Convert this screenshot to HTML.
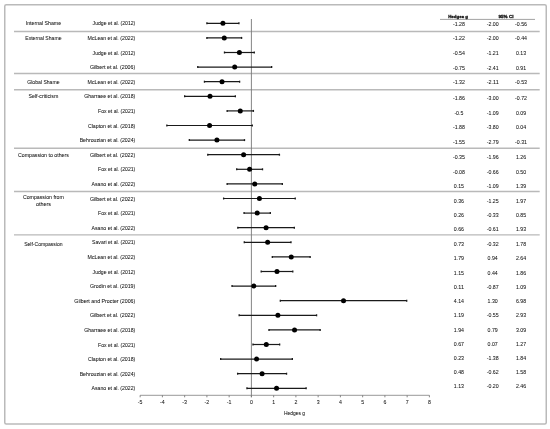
<!DOCTYPE html>
<html><head><meta charset="utf-8"><style>
html,body{margin:0;padding:0;background:#fff;}
body{width:550px;height:429px;overflow:hidden;}
svg{display:block;font-family:"Liberation Sans",sans-serif;}
text{stroke:#111;stroke-width:0.05px;}
</style></head><body>
<svg width="550" height="429" viewBox="0 0 550 429" fill="#111">
<rect x="4.75" y="4.75" width="541.5" height="419.2" rx="1.5" fill="none" stroke="#bababa" stroke-width="1.5"/>
<line x1="14" y1="31.45" x2="539.7" y2="31.45" stroke="#b9b9b9" stroke-width="1.4"/>
<line x1="14" y1="73.55" x2="539.7" y2="73.55" stroke="#b9b9b9" stroke-width="1.4"/>
<line x1="14" y1="89.75" x2="539.7" y2="89.75" stroke="#b9b9b9" stroke-width="1.4"/>
<line x1="14" y1="148.25" x2="539.7" y2="148.25" stroke="#b9b9b9" stroke-width="1.4"/>
<line x1="14" y1="191.45" x2="539.7" y2="191.45" stroke="#b9b9b9" stroke-width="1.4"/>
<line x1="14" y1="234.85" x2="539.7" y2="234.85" stroke="#b9b9b9" stroke-width="1.4"/>
<line x1="440" y1="19.4" x2="535" y2="19.4" stroke="#8a8a8a" stroke-width="0.8"/>
<line x1="251.4" y1="19" x2="251.4" y2="397.2" stroke="#777" stroke-width="0.9"/>
<line x1="140.15" y1="395.3" x2="429.4" y2="395.3" stroke="#858585" stroke-width="0.85"/>
<line x1="140.15" y1="395.3" x2="140.15" y2="397.3" stroke="#777" stroke-width="0.9"/>
<line x1="162.40" y1="395.3" x2="162.40" y2="397.3" stroke="#777" stroke-width="0.9"/>
<line x1="184.65" y1="395.3" x2="184.65" y2="397.3" stroke="#777" stroke-width="0.9"/>
<line x1="206.90" y1="395.3" x2="206.90" y2="397.3" stroke="#777" stroke-width="0.9"/>
<line x1="229.15" y1="395.3" x2="229.15" y2="397.3" stroke="#777" stroke-width="0.9"/>
<line x1="251.40" y1="395.3" x2="251.40" y2="397.3" stroke="#777" stroke-width="0.9"/>
<line x1="273.65" y1="395.3" x2="273.65" y2="397.3" stroke="#777" stroke-width="0.9"/>
<line x1="295.90" y1="395.3" x2="295.90" y2="397.3" stroke="#777" stroke-width="0.9"/>
<line x1="318.15" y1="395.3" x2="318.15" y2="397.3" stroke="#777" stroke-width="0.9"/>
<line x1="340.40" y1="395.3" x2="340.40" y2="397.3" stroke="#777" stroke-width="0.9"/>
<line x1="362.65" y1="395.3" x2="362.65" y2="397.3" stroke="#777" stroke-width="0.9"/>
<line x1="384.90" y1="395.3" x2="384.90" y2="397.3" stroke="#777" stroke-width="0.9"/>
<line x1="407.15" y1="395.3" x2="407.15" y2="397.3" stroke="#777" stroke-width="0.9"/>
<line x1="429.40" y1="395.3" x2="429.40" y2="397.3" stroke="#777" stroke-width="0.9"/>
<line x1="206.90" y1="23.30" x2="238.94" y2="23.30" stroke="#1a1a1a" stroke-width="1.2"/>
<line x1="206.90" y1="22.30" x2="206.90" y2="24.30" stroke="#1a1a1a" stroke-width="1.3"/>
<line x1="238.94" y1="22.30" x2="238.94" y2="24.30" stroke="#1a1a1a" stroke-width="1.3"/>
<circle cx="222.92" cy="23.30" r="2.5" fill="#000"/>
<line x1="206.90" y1="37.90" x2="241.61" y2="37.90" stroke="#1a1a1a" stroke-width="1.2"/>
<line x1="206.90" y1="36.90" x2="206.90" y2="38.90" stroke="#1a1a1a" stroke-width="1.3"/>
<line x1="241.61" y1="36.90" x2="241.61" y2="38.90" stroke="#1a1a1a" stroke-width="1.3"/>
<circle cx="224.25" cy="37.90" r="2.5" fill="#000"/>
<line x1="224.48" y1="52.50" x2="254.29" y2="52.50" stroke="#1a1a1a" stroke-width="1.2"/>
<line x1="224.48" y1="51.50" x2="224.48" y2="53.50" stroke="#1a1a1a" stroke-width="1.3"/>
<line x1="254.29" y1="51.50" x2="254.29" y2="53.50" stroke="#1a1a1a" stroke-width="1.3"/>
<circle cx="239.38" cy="52.50" r="2.5" fill="#000"/>
<line x1="197.78" y1="67.10" x2="271.65" y2="67.10" stroke="#1a1a1a" stroke-width="1.2"/>
<line x1="197.78" y1="66.10" x2="197.78" y2="68.10" stroke="#1a1a1a" stroke-width="1.3"/>
<line x1="271.65" y1="66.10" x2="271.65" y2="68.10" stroke="#1a1a1a" stroke-width="1.3"/>
<circle cx="234.71" cy="67.10" r="2.5" fill="#000"/>
<line x1="204.45" y1="81.70" x2="239.61" y2="81.70" stroke="#1a1a1a" stroke-width="1.2"/>
<line x1="204.45" y1="80.70" x2="204.45" y2="82.70" stroke="#1a1a1a" stroke-width="1.3"/>
<line x1="239.61" y1="80.70" x2="239.61" y2="82.70" stroke="#1a1a1a" stroke-width="1.3"/>
<circle cx="222.03" cy="81.70" r="2.5" fill="#000"/>
<line x1="184.65" y1="96.30" x2="235.38" y2="96.30" stroke="#1a1a1a" stroke-width="1.2"/>
<line x1="184.65" y1="95.30" x2="184.65" y2="97.30" stroke="#1a1a1a" stroke-width="1.3"/>
<line x1="235.38" y1="95.30" x2="235.38" y2="97.30" stroke="#1a1a1a" stroke-width="1.3"/>
<circle cx="210.01" cy="96.30" r="2.5" fill="#000"/>
<line x1="227.15" y1="110.90" x2="253.40" y2="110.90" stroke="#1a1a1a" stroke-width="1.2"/>
<line x1="227.15" y1="109.90" x2="227.15" y2="111.90" stroke="#1a1a1a" stroke-width="1.3"/>
<line x1="253.40" y1="109.90" x2="253.40" y2="111.90" stroke="#1a1a1a" stroke-width="1.3"/>
<circle cx="240.28" cy="110.90" r="2.5" fill="#000"/>
<line x1="166.85" y1="125.50" x2="252.29" y2="125.50" stroke="#1a1a1a" stroke-width="1.2"/>
<line x1="166.85" y1="124.50" x2="166.85" y2="126.50" stroke="#1a1a1a" stroke-width="1.3"/>
<line x1="252.29" y1="124.50" x2="252.29" y2="126.50" stroke="#1a1a1a" stroke-width="1.3"/>
<circle cx="209.57" cy="125.50" r="2.5" fill="#000"/>
<line x1="189.32" y1="140.10" x2="244.50" y2="140.10" stroke="#1a1a1a" stroke-width="1.2"/>
<line x1="189.32" y1="139.10" x2="189.32" y2="141.10" stroke="#1a1a1a" stroke-width="1.3"/>
<line x1="244.50" y1="139.10" x2="244.50" y2="141.10" stroke="#1a1a1a" stroke-width="1.3"/>
<circle cx="216.91" cy="140.10" r="2.5" fill="#000"/>
<line x1="207.79" y1="154.70" x2="279.44" y2="154.70" stroke="#1a1a1a" stroke-width="1.2"/>
<line x1="207.79" y1="153.70" x2="207.79" y2="155.70" stroke="#1a1a1a" stroke-width="1.3"/>
<line x1="279.44" y1="153.70" x2="279.44" y2="155.70" stroke="#1a1a1a" stroke-width="1.3"/>
<circle cx="243.61" cy="154.70" r="2.5" fill="#000"/>
<line x1="236.72" y1="169.30" x2="262.52" y2="169.30" stroke="#1a1a1a" stroke-width="1.2"/>
<line x1="236.72" y1="168.30" x2="236.72" y2="170.30" stroke="#1a1a1a" stroke-width="1.3"/>
<line x1="262.52" y1="168.30" x2="262.52" y2="170.30" stroke="#1a1a1a" stroke-width="1.3"/>
<circle cx="249.62" cy="169.30" r="2.5" fill="#000"/>
<line x1="227.15" y1="183.90" x2="282.33" y2="183.90" stroke="#1a1a1a" stroke-width="1.2"/>
<line x1="227.15" y1="182.90" x2="227.15" y2="184.90" stroke="#1a1a1a" stroke-width="1.3"/>
<line x1="282.33" y1="182.90" x2="282.33" y2="184.90" stroke="#1a1a1a" stroke-width="1.3"/>
<circle cx="254.74" cy="183.90" r="2.5" fill="#000"/>
<line x1="223.59" y1="198.50" x2="295.23" y2="198.50" stroke="#1a1a1a" stroke-width="1.2"/>
<line x1="223.59" y1="197.50" x2="223.59" y2="199.50" stroke="#1a1a1a" stroke-width="1.3"/>
<line x1="295.23" y1="197.50" x2="295.23" y2="199.50" stroke="#1a1a1a" stroke-width="1.3"/>
<circle cx="259.41" cy="198.50" r="2.5" fill="#000"/>
<line x1="244.06" y1="213.10" x2="270.31" y2="213.10" stroke="#1a1a1a" stroke-width="1.2"/>
<line x1="244.06" y1="212.10" x2="244.06" y2="214.10" stroke="#1a1a1a" stroke-width="1.3"/>
<line x1="270.31" y1="212.10" x2="270.31" y2="214.10" stroke="#1a1a1a" stroke-width="1.3"/>
<circle cx="257.19" cy="213.10" r="2.5" fill="#000"/>
<line x1="237.83" y1="227.70" x2="294.34" y2="227.70" stroke="#1a1a1a" stroke-width="1.2"/>
<line x1="237.83" y1="226.70" x2="237.83" y2="228.70" stroke="#1a1a1a" stroke-width="1.3"/>
<line x1="294.34" y1="226.70" x2="294.34" y2="228.70" stroke="#1a1a1a" stroke-width="1.3"/>
<circle cx="266.08" cy="227.70" r="2.5" fill="#000"/>
<line x1="244.28" y1="242.30" x2="291.00" y2="242.30" stroke="#1a1a1a" stroke-width="1.2"/>
<line x1="244.28" y1="241.30" x2="244.28" y2="243.30" stroke="#1a1a1a" stroke-width="1.3"/>
<line x1="291.00" y1="241.30" x2="291.00" y2="243.30" stroke="#1a1a1a" stroke-width="1.3"/>
<circle cx="267.64" cy="242.30" r="2.5" fill="#000"/>
<line x1="272.31" y1="256.90" x2="310.14" y2="256.90" stroke="#1a1a1a" stroke-width="1.2"/>
<line x1="272.31" y1="255.90" x2="272.31" y2="257.90" stroke="#1a1a1a" stroke-width="1.3"/>
<line x1="310.14" y1="255.90" x2="310.14" y2="257.90" stroke="#1a1a1a" stroke-width="1.3"/>
<circle cx="291.23" cy="256.90" r="2.5" fill="#000"/>
<line x1="261.19" y1="271.50" x2="292.79" y2="271.50" stroke="#1a1a1a" stroke-width="1.2"/>
<line x1="261.19" y1="270.50" x2="261.19" y2="272.50" stroke="#1a1a1a" stroke-width="1.3"/>
<line x1="292.79" y1="270.50" x2="292.79" y2="272.50" stroke="#1a1a1a" stroke-width="1.3"/>
<circle cx="276.99" cy="271.50" r="2.5" fill="#000"/>
<line x1="232.04" y1="286.10" x2="275.65" y2="286.10" stroke="#1a1a1a" stroke-width="1.2"/>
<line x1="232.04" y1="285.10" x2="232.04" y2="287.10" stroke="#1a1a1a" stroke-width="1.3"/>
<line x1="275.65" y1="285.10" x2="275.65" y2="287.10" stroke="#1a1a1a" stroke-width="1.3"/>
<circle cx="253.85" cy="286.10" r="2.5" fill="#000"/>
<line x1="280.32" y1="300.70" x2="406.71" y2="300.70" stroke="#1a1a1a" stroke-width="1.2"/>
<line x1="280.32" y1="299.70" x2="280.32" y2="301.70" stroke="#1a1a1a" stroke-width="1.3"/>
<line x1="406.71" y1="299.70" x2="406.71" y2="301.70" stroke="#1a1a1a" stroke-width="1.3"/>
<circle cx="343.51" cy="300.70" r="2.5" fill="#000"/>
<line x1="239.16" y1="315.30" x2="316.59" y2="315.30" stroke="#1a1a1a" stroke-width="1.2"/>
<line x1="239.16" y1="314.30" x2="239.16" y2="316.30" stroke="#1a1a1a" stroke-width="1.3"/>
<line x1="316.59" y1="314.30" x2="316.59" y2="316.30" stroke="#1a1a1a" stroke-width="1.3"/>
<circle cx="277.88" cy="315.30" r="2.5" fill="#000"/>
<line x1="268.98" y1="329.90" x2="320.15" y2="329.90" stroke="#1a1a1a" stroke-width="1.2"/>
<line x1="268.98" y1="328.90" x2="268.98" y2="330.90" stroke="#1a1a1a" stroke-width="1.3"/>
<line x1="320.15" y1="328.90" x2="320.15" y2="330.90" stroke="#1a1a1a" stroke-width="1.3"/>
<circle cx="294.56" cy="329.90" r="2.5" fill="#000"/>
<line x1="252.96" y1="344.50" x2="279.66" y2="344.50" stroke="#1a1a1a" stroke-width="1.2"/>
<line x1="252.96" y1="343.50" x2="252.96" y2="345.50" stroke="#1a1a1a" stroke-width="1.3"/>
<line x1="279.66" y1="343.50" x2="279.66" y2="345.50" stroke="#1a1a1a" stroke-width="1.3"/>
<circle cx="266.31" cy="344.50" r="2.5" fill="#000"/>
<line x1="220.69" y1="359.10" x2="292.34" y2="359.10" stroke="#1a1a1a" stroke-width="1.2"/>
<line x1="220.69" y1="358.10" x2="220.69" y2="360.10" stroke="#1a1a1a" stroke-width="1.3"/>
<line x1="292.34" y1="358.10" x2="292.34" y2="360.10" stroke="#1a1a1a" stroke-width="1.3"/>
<circle cx="256.52" cy="359.10" r="2.5" fill="#000"/>
<line x1="237.61" y1="373.70" x2="286.56" y2="373.70" stroke="#1a1a1a" stroke-width="1.2"/>
<line x1="237.61" y1="372.70" x2="237.61" y2="374.70" stroke="#1a1a1a" stroke-width="1.3"/>
<line x1="286.56" y1="372.70" x2="286.56" y2="374.70" stroke="#1a1a1a" stroke-width="1.3"/>
<circle cx="262.08" cy="373.70" r="2.5" fill="#000"/>
<line x1="246.95" y1="388.30" x2="306.13" y2="388.30" stroke="#1a1a1a" stroke-width="1.2"/>
<line x1="246.95" y1="387.30" x2="246.95" y2="389.30" stroke="#1a1a1a" stroke-width="1.3"/>
<line x1="306.13" y1="387.30" x2="306.13" y2="389.30" stroke="#1a1a1a" stroke-width="1.3"/>
<circle cx="276.54" cy="388.30" r="2.5" fill="#000"/>
<text x="43.40" y="24.80" text-anchor="middle" textLength="35.41" lengthAdjust="spacingAndGlyphs" font-size="5.8">Internal Shame</text>
<text x="135.30" y="25.40" text-anchor="end" textLength="42.72" lengthAdjust="spacingAndGlyphs" font-size="5.8">Judge et al. (2012)</text>
<text x="458.90" y="25.85" text-anchor="middle" textLength="11.96" lengthAdjust="spacingAndGlyphs" font-size="5.8">-1.28</text>
<text x="492.70" y="25.85" text-anchor="middle" textLength="11.96" lengthAdjust="spacingAndGlyphs" font-size="5.8">-2.00</text>
<text x="521.00" y="25.85" text-anchor="middle" textLength="11.96" lengthAdjust="spacingAndGlyphs" font-size="5.8">-0.56</text>
<text x="43.40" y="40.30" text-anchor="middle" textLength="36.31" lengthAdjust="spacingAndGlyphs" font-size="5.8">External Shame</text>
<text x="135.30" y="40.00" text-anchor="end" textLength="47.73" lengthAdjust="spacingAndGlyphs" font-size="5.8">McLean et al. (2022)</text>
<text x="458.90" y="40.35" text-anchor="middle" textLength="11.96" lengthAdjust="spacingAndGlyphs" font-size="5.8">-1.22</text>
<text x="492.70" y="40.35" text-anchor="middle" textLength="11.96" lengthAdjust="spacingAndGlyphs" font-size="5.8">-2.00</text>
<text x="521.00" y="40.35" text-anchor="middle" textLength="11.96" lengthAdjust="spacingAndGlyphs" font-size="5.8">-0.44</text>
<text x="135.30" y="54.60" text-anchor="end" textLength="42.72" lengthAdjust="spacingAndGlyphs" font-size="5.8">Judge et al. (2012)</text>
<text x="458.90" y="55.15" text-anchor="middle" textLength="11.96" lengthAdjust="spacingAndGlyphs" font-size="5.8">-0.54</text>
<text x="492.70" y="55.15" text-anchor="middle" textLength="11.96" lengthAdjust="spacingAndGlyphs" font-size="5.8">-1.21</text>
<text x="521.00" y="55.15" text-anchor="middle" textLength="10.19" lengthAdjust="spacingAndGlyphs" font-size="5.8">0.13</text>
<text x="135.30" y="69.20" text-anchor="end" textLength="45.41" lengthAdjust="spacingAndGlyphs" font-size="5.8">Gilbert et al. (2006)</text>
<text x="458.90" y="70.05" text-anchor="middle" textLength="11.96" lengthAdjust="spacingAndGlyphs" font-size="5.8">-0.75</text>
<text x="492.70" y="70.05" text-anchor="middle" textLength="11.96" lengthAdjust="spacingAndGlyphs" font-size="5.8">-2.41</text>
<text x="521.00" y="70.05" text-anchor="middle" textLength="10.19" lengthAdjust="spacingAndGlyphs" font-size="5.8">0.91</text>
<text x="43.40" y="83.70" text-anchor="middle" textLength="32.25" lengthAdjust="spacingAndGlyphs" font-size="5.8">Global Shame</text>
<text x="135.30" y="83.80" text-anchor="end" textLength="47.73" lengthAdjust="spacingAndGlyphs" font-size="5.8">McLean et al. (2022)</text>
<text x="458.90" y="84.45" text-anchor="middle" textLength="11.96" lengthAdjust="spacingAndGlyphs" font-size="5.8">-1.32</text>
<text x="492.70" y="84.45" text-anchor="middle" textLength="11.96" lengthAdjust="spacingAndGlyphs" font-size="5.8">-2.11</text>
<text x="521.00" y="84.45" text-anchor="middle" textLength="11.96" lengthAdjust="spacingAndGlyphs" font-size="5.8">-0.53</text>
<text x="43.40" y="97.50" text-anchor="middle" textLength="29.74" lengthAdjust="spacingAndGlyphs" font-size="5.8">Self-criticism</text>
<text x="135.30" y="98.40" text-anchor="end" textLength="51.10" lengthAdjust="spacingAndGlyphs" font-size="5.8">Gharraee et al. (2018)</text>
<text x="458.90" y="99.55" text-anchor="middle" textLength="11.96" lengthAdjust="spacingAndGlyphs" font-size="5.8">-1.86</text>
<text x="492.70" y="99.55" text-anchor="middle" textLength="11.96" lengthAdjust="spacingAndGlyphs" font-size="5.8">-3.00</text>
<text x="521.00" y="99.55" text-anchor="middle" textLength="11.96" lengthAdjust="spacingAndGlyphs" font-size="5.8">-0.72</text>
<text x="135.30" y="113.00" text-anchor="end" textLength="37.30" lengthAdjust="spacingAndGlyphs" font-size="5.8">Fox et al. (2021)</text>
<text x="458.90" y="114.65" text-anchor="middle" textLength="9.04" lengthAdjust="spacingAndGlyphs" font-size="5.8">-0.5</text>
<text x="492.70" y="114.65" text-anchor="middle" textLength="11.96" lengthAdjust="spacingAndGlyphs" font-size="5.8">-1.09</text>
<text x="521.00" y="114.65" text-anchor="middle" textLength="10.19" lengthAdjust="spacingAndGlyphs" font-size="5.8">0.09</text>
<text x="135.30" y="127.60" text-anchor="end" textLength="47.38" lengthAdjust="spacingAndGlyphs" font-size="5.8">Clapton et al. (2018)</text>
<text x="458.90" y="129.45" text-anchor="middle" textLength="11.96" lengthAdjust="spacingAndGlyphs" font-size="5.8">-1.88</text>
<text x="492.70" y="129.45" text-anchor="middle" textLength="11.96" lengthAdjust="spacingAndGlyphs" font-size="5.8">-3.80</text>
<text x="521.00" y="129.45" text-anchor="middle" textLength="10.19" lengthAdjust="spacingAndGlyphs" font-size="5.8">0.04</text>
<text x="135.30" y="142.20" text-anchor="end" textLength="55.67" lengthAdjust="spacingAndGlyphs" font-size="5.8">Behrouzian et al. (2024)</text>
<text x="458.90" y="144.05" text-anchor="middle" textLength="11.96" lengthAdjust="spacingAndGlyphs" font-size="5.8">-1.55</text>
<text x="492.70" y="144.05" text-anchor="middle" textLength="11.96" lengthAdjust="spacingAndGlyphs" font-size="5.8">-2.79</text>
<text x="521.00" y="144.05" text-anchor="middle" textLength="11.96" lengthAdjust="spacingAndGlyphs" font-size="5.8">-0.31</text>
<text x="43.40" y="156.70" text-anchor="middle" textLength="50.84" lengthAdjust="spacingAndGlyphs" font-size="5.8">Compassion to others</text>
<text x="135.30" y="156.80" text-anchor="end" textLength="45.41" lengthAdjust="spacingAndGlyphs" font-size="5.8">Gilbert et al. (2022)</text>
<text x="458.90" y="158.75" text-anchor="middle" textLength="11.96" lengthAdjust="spacingAndGlyphs" font-size="5.8">-0.35</text>
<text x="492.70" y="158.75" text-anchor="middle" textLength="11.96" lengthAdjust="spacingAndGlyphs" font-size="5.8">-1.96</text>
<text x="521.00" y="158.75" text-anchor="middle" textLength="10.19" lengthAdjust="spacingAndGlyphs" font-size="5.8">1.26</text>
<text x="135.30" y="171.40" text-anchor="end" textLength="37.30" lengthAdjust="spacingAndGlyphs" font-size="5.8">Fox et al. (2021)</text>
<text x="458.90" y="173.55" text-anchor="middle" textLength="11.96" lengthAdjust="spacingAndGlyphs" font-size="5.8">-0.08</text>
<text x="492.70" y="173.55" text-anchor="middle" textLength="11.96" lengthAdjust="spacingAndGlyphs" font-size="5.8">-0.66</text>
<text x="521.00" y="173.55" text-anchor="middle" textLength="10.19" lengthAdjust="spacingAndGlyphs" font-size="5.8">0.50</text>
<text x="135.30" y="186.00" text-anchor="end" textLength="43.71" lengthAdjust="spacingAndGlyphs" font-size="5.8">Asano et al. (2022)</text>
<text x="458.90" y="188.05" text-anchor="middle" textLength="10.19" lengthAdjust="spacingAndGlyphs" font-size="5.8">0.15</text>
<text x="492.70" y="188.05" text-anchor="middle" textLength="11.96" lengthAdjust="spacingAndGlyphs" font-size="5.8">-1.09</text>
<text x="521.00" y="188.05" text-anchor="middle" textLength="10.19" lengthAdjust="spacingAndGlyphs" font-size="5.8">1.39</text>
<text x="43.40" y="198.80" text-anchor="middle" textLength="40.93" lengthAdjust="spacingAndGlyphs" font-size="5.8">Compassion from</text>
<text x="43.40" y="206.10" text-anchor="middle" textLength="15.00" lengthAdjust="spacingAndGlyphs" font-size="5.8">others</text>
<text x="135.30" y="200.60" text-anchor="end" textLength="45.41" lengthAdjust="spacingAndGlyphs" font-size="5.8">Gilbert et al. (2022)</text>
<text x="458.90" y="202.75" text-anchor="middle" textLength="10.19" lengthAdjust="spacingAndGlyphs" font-size="5.8">0.36</text>
<text x="492.70" y="202.75" text-anchor="middle" textLength="11.96" lengthAdjust="spacingAndGlyphs" font-size="5.8">-1.25</text>
<text x="521.00" y="202.75" text-anchor="middle" textLength="10.19" lengthAdjust="spacingAndGlyphs" font-size="5.8">1.97</text>
<text x="135.30" y="215.20" text-anchor="end" textLength="37.30" lengthAdjust="spacingAndGlyphs" font-size="5.8">Fox et al. (2021)</text>
<text x="458.90" y="216.65" text-anchor="middle" textLength="10.19" lengthAdjust="spacingAndGlyphs" font-size="5.8">0.26</text>
<text x="492.70" y="216.65" text-anchor="middle" textLength="11.96" lengthAdjust="spacingAndGlyphs" font-size="5.8">-0.33</text>
<text x="521.00" y="216.65" text-anchor="middle" textLength="10.19" lengthAdjust="spacingAndGlyphs" font-size="5.8">0.85</text>
<text x="135.30" y="229.80" text-anchor="end" textLength="43.71" lengthAdjust="spacingAndGlyphs" font-size="5.8">Asano et al. (2022)</text>
<text x="458.90" y="231.15" text-anchor="middle" textLength="10.19" lengthAdjust="spacingAndGlyphs" font-size="5.8">0.66</text>
<text x="492.70" y="231.15" text-anchor="middle" textLength="11.96" lengthAdjust="spacingAndGlyphs" font-size="5.8">-0.61</text>
<text x="521.00" y="231.15" text-anchor="middle" textLength="10.19" lengthAdjust="spacingAndGlyphs" font-size="5.8">1.93</text>
<text x="43.40" y="246.40" text-anchor="middle" textLength="38.52" lengthAdjust="spacingAndGlyphs" font-size="5.8">Self-Compassion</text>
<text x="135.30" y="244.40" text-anchor="end" textLength="43.22" lengthAdjust="spacingAndGlyphs" font-size="5.8">Savari et al. (2021)</text>
<text x="458.90" y="246.25" text-anchor="middle" textLength="10.19" lengthAdjust="spacingAndGlyphs" font-size="5.8">0.73</text>
<text x="492.70" y="246.25" text-anchor="middle" textLength="11.96" lengthAdjust="spacingAndGlyphs" font-size="5.8">-0.32</text>
<text x="521.00" y="246.25" text-anchor="middle" textLength="10.19" lengthAdjust="spacingAndGlyphs" font-size="5.8">1.78</text>
<text x="135.30" y="259.00" text-anchor="end" textLength="47.73" lengthAdjust="spacingAndGlyphs" font-size="5.8">McLean et al. (2022)</text>
<text x="458.90" y="260.35" text-anchor="middle" textLength="10.19" lengthAdjust="spacingAndGlyphs" font-size="5.8">1.79</text>
<text x="492.70" y="260.35" text-anchor="middle" textLength="10.19" lengthAdjust="spacingAndGlyphs" font-size="5.8">0.94</text>
<text x="521.00" y="260.35" text-anchor="middle" textLength="10.19" lengthAdjust="spacingAndGlyphs" font-size="5.8">2.64</text>
<text x="135.30" y="273.60" text-anchor="end" textLength="42.72" lengthAdjust="spacingAndGlyphs" font-size="5.8">Judge et al. (2012)</text>
<text x="458.90" y="274.55" text-anchor="middle" textLength="10.19" lengthAdjust="spacingAndGlyphs" font-size="5.8">1.15</text>
<text x="492.70" y="274.55" text-anchor="middle" textLength="10.19" lengthAdjust="spacingAndGlyphs" font-size="5.8">0.44</text>
<text x="521.00" y="274.55" text-anchor="middle" textLength="10.19" lengthAdjust="spacingAndGlyphs" font-size="5.8">1.86</text>
<text x="135.30" y="288.20" text-anchor="end" textLength="45.26" lengthAdjust="spacingAndGlyphs" font-size="5.8">Grodin et al. (2019)</text>
<text x="458.90" y="288.75" text-anchor="middle" textLength="10.19" lengthAdjust="spacingAndGlyphs" font-size="5.8">0.11</text>
<text x="492.70" y="288.75" text-anchor="middle" textLength="11.96" lengthAdjust="spacingAndGlyphs" font-size="5.8">-0.87</text>
<text x="521.00" y="288.75" text-anchor="middle" textLength="10.19" lengthAdjust="spacingAndGlyphs" font-size="5.8">1.09</text>
<text x="135.30" y="302.80" text-anchor="end" textLength="61.00" lengthAdjust="spacingAndGlyphs" font-size="5.8">Gilbert and Procter (2006)</text>
<text x="458.90" y="302.85" text-anchor="middle" textLength="10.19" lengthAdjust="spacingAndGlyphs" font-size="5.8">4.14</text>
<text x="492.70" y="302.85" text-anchor="middle" textLength="10.19" lengthAdjust="spacingAndGlyphs" font-size="5.8">1.30</text>
<text x="521.00" y="302.85" text-anchor="middle" textLength="10.19" lengthAdjust="spacingAndGlyphs" font-size="5.8">6.98</text>
<text x="135.30" y="317.40" text-anchor="end" textLength="45.41" lengthAdjust="spacingAndGlyphs" font-size="5.8">Gilbert et al. (2022)</text>
<text x="458.90" y="317.05" text-anchor="middle" textLength="10.19" lengthAdjust="spacingAndGlyphs" font-size="5.8">1.19</text>
<text x="492.70" y="317.05" text-anchor="middle" textLength="11.96" lengthAdjust="spacingAndGlyphs" font-size="5.8">-0.55</text>
<text x="521.00" y="317.05" text-anchor="middle" textLength="10.19" lengthAdjust="spacingAndGlyphs" font-size="5.8">2.93</text>
<text x="135.30" y="332.00" text-anchor="end" textLength="51.10" lengthAdjust="spacingAndGlyphs" font-size="5.8">Gharraee et al. (2018)</text>
<text x="458.90" y="331.55" text-anchor="middle" textLength="10.19" lengthAdjust="spacingAndGlyphs" font-size="5.8">1.94</text>
<text x="492.70" y="331.55" text-anchor="middle" textLength="10.19" lengthAdjust="spacingAndGlyphs" font-size="5.8">0.79</text>
<text x="521.00" y="331.55" text-anchor="middle" textLength="10.19" lengthAdjust="spacingAndGlyphs" font-size="5.8">3.09</text>
<text x="135.30" y="346.60" text-anchor="end" textLength="37.30" lengthAdjust="spacingAndGlyphs" font-size="5.8">Fox et al. (2021)</text>
<text x="458.90" y="345.75" text-anchor="middle" textLength="10.19" lengthAdjust="spacingAndGlyphs" font-size="5.8">0.67</text>
<text x="492.70" y="345.75" text-anchor="middle" textLength="10.19" lengthAdjust="spacingAndGlyphs" font-size="5.8">0.07</text>
<text x="521.00" y="345.75" text-anchor="middle" textLength="10.19" lengthAdjust="spacingAndGlyphs" font-size="5.8">1.27</text>
<text x="135.30" y="361.20" text-anchor="end" textLength="47.38" lengthAdjust="spacingAndGlyphs" font-size="5.8">Clapton et al. (2018)</text>
<text x="458.90" y="359.85" text-anchor="middle" textLength="10.19" lengthAdjust="spacingAndGlyphs" font-size="5.8">0.23</text>
<text x="492.70" y="359.85" text-anchor="middle" textLength="11.96" lengthAdjust="spacingAndGlyphs" font-size="5.8">-1.38</text>
<text x="521.00" y="359.85" text-anchor="middle" textLength="10.19" lengthAdjust="spacingAndGlyphs" font-size="5.8">1.84</text>
<text x="135.30" y="375.80" text-anchor="end" textLength="55.67" lengthAdjust="spacingAndGlyphs" font-size="5.8">Behrouzian et al. (2024)</text>
<text x="458.90" y="374.05" text-anchor="middle" textLength="10.19" lengthAdjust="spacingAndGlyphs" font-size="5.8">0.48</text>
<text x="492.70" y="374.05" text-anchor="middle" textLength="11.96" lengthAdjust="spacingAndGlyphs" font-size="5.8">-0.62</text>
<text x="521.00" y="374.05" text-anchor="middle" textLength="10.19" lengthAdjust="spacingAndGlyphs" font-size="5.8">1.58</text>
<text x="135.30" y="390.40" text-anchor="end" textLength="43.71" lengthAdjust="spacingAndGlyphs" font-size="5.8">Asano et al. (2022)</text>
<text x="458.90" y="388.45" text-anchor="middle" textLength="10.19" lengthAdjust="spacingAndGlyphs" font-size="5.8">1.13</text>
<text x="492.70" y="388.45" text-anchor="middle" textLength="11.96" lengthAdjust="spacingAndGlyphs" font-size="5.8">-0.20</text>
<text x="521.00" y="388.45" text-anchor="middle" textLength="10.19" lengthAdjust="spacingAndGlyphs" font-size="5.8">2.46</text>
<text x="458.10" y="18.00" text-anchor="middle" textLength="19.81" lengthAdjust="spacingAndGlyphs" font-weight="bold" style="stroke-width:0.3px" font-size="4.3">Hedges g</text>
<text x="506.00" y="18.00" text-anchor="middle" textLength="14.93" lengthAdjust="spacingAndGlyphs" font-weight="bold" style="stroke-width:0.3px" font-size="4.3">95% CI</text>
<text x="140.15" y="404.30" text-anchor="middle" textLength="4.68" lengthAdjust="spacingAndGlyphs" font-size="5.8">-5</text>
<text x="162.40" y="404.30" text-anchor="middle" textLength="4.68" lengthAdjust="spacingAndGlyphs" font-size="5.8">-4</text>
<text x="184.65" y="404.30" text-anchor="middle" textLength="4.68" lengthAdjust="spacingAndGlyphs" font-size="5.8">-3</text>
<text x="206.90" y="404.30" text-anchor="middle" textLength="4.68" lengthAdjust="spacingAndGlyphs" font-size="5.8">-2</text>
<text x="229.15" y="404.30" text-anchor="middle" textLength="4.68" lengthAdjust="spacingAndGlyphs" font-size="5.8">-1</text>
<text x="251.40" y="404.30" text-anchor="middle" textLength="2.91" lengthAdjust="spacingAndGlyphs" font-size="5.8">0</text>
<text x="273.65" y="404.30" text-anchor="middle" textLength="2.91" lengthAdjust="spacingAndGlyphs" font-size="5.8">1</text>
<text x="295.90" y="404.30" text-anchor="middle" textLength="2.91" lengthAdjust="spacingAndGlyphs" font-size="5.8">2</text>
<text x="318.15" y="404.30" text-anchor="middle" textLength="2.91" lengthAdjust="spacingAndGlyphs" font-size="5.8">3</text>
<text x="340.40" y="404.30" text-anchor="middle" textLength="2.91" lengthAdjust="spacingAndGlyphs" font-size="5.8">4</text>
<text x="362.65" y="404.30" text-anchor="middle" textLength="2.91" lengthAdjust="spacingAndGlyphs" font-size="5.8">5</text>
<text x="384.90" y="404.30" text-anchor="middle" textLength="2.91" lengthAdjust="spacingAndGlyphs" font-size="5.8">6</text>
<text x="407.15" y="404.30" text-anchor="middle" textLength="2.91" lengthAdjust="spacingAndGlyphs" font-size="5.8">7</text>
<text x="429.40" y="404.30" text-anchor="middle" textLength="2.91" lengthAdjust="spacingAndGlyphs" font-size="5.8">8</text>
<text x="294.50" y="414.60" text-anchor="middle" textLength="21.24" lengthAdjust="spacingAndGlyphs" font-size="5.8">Hedges g</text>
</svg>
</body></html>
